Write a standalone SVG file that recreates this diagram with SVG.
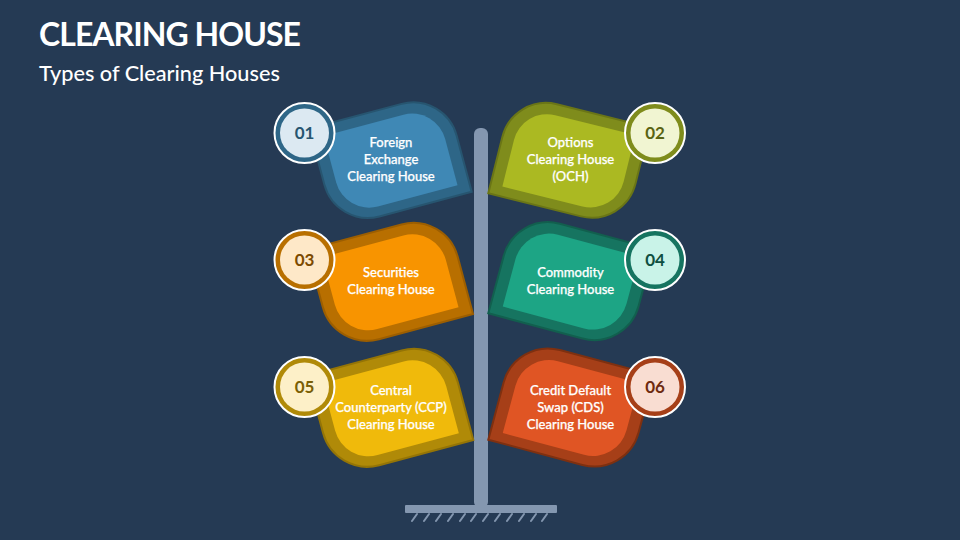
<svg xmlns="http://www.w3.org/2000/svg" width="960" height="540" viewBox="0 0 960 540">
<style>
text{font-family:Lato,"Open Sans","Liberation Sans",sans-serif}
.lbl{font-size:13px;font-weight:500;fill:#fff;stroke:#fff;stroke-width:.25;text-anchor:middle}
.num{font-size:17px;font-weight:700;text-anchor:middle}
.ring{stroke:#fff;stroke-width:2}
.post{fill:#8497B0}
.tick{stroke:#8497B0;stroke-width:2;stroke-linecap:round}
</style>
<defs>
<path id="outer" d="M-140.5,-103H-45A45,45 0 0 1 0,-58V0H-95.5A45,45 0 0 1 -140.5,-45Z" stroke-width="2"/>
<path id="inner" d="M-128.5,-92H-46A34,34 0 0 1 -12,-58V-10H-94.5A34,34 0 0 1 -128.5,-44Z"/>
</defs>
<rect width="960" height="540" fill="#253A54"/>
<text x="39" y="46" font-size="32" font-weight="700" fill="#fff" textLength="262">CLEARING HOUSE</text>
<text x="39" y="81" font-size="21.7" font-weight="500" fill="#fff">Types of Clearing Houses</text>
<g id="post">
<rect class="post" x="474" y="128" width="14" height="380" rx="6"/>
<rect class="post" x="405" y="505" width="152" height="8" rx="1"/>
<path class="tick" d="M412,521L417,514M424,521L429,514M436,521L441,514M448,521L453,514M460,521L465,514M471,521L476,514M483,521L488,514M495,521L500,514M507,521L512,514M519,521L524,514M531,521L536,514M542,521L547,514"/>
</g>
<g id="node1">
<g transform="translate(471.7,191.7) rotate(-15)"><use href="#outer" fill="#2E6687" stroke="#275570"/><use href="#inner" fill="#3F88B5"/></g>
<text class="lbl" x="391" y="147">Foreign</text><text class="lbl" x="391" y="164">Exchange</text><text class="lbl" x="391" y="181">Clearing House</text>
<circle class="ring" cx="304.5" cy="133" r="30" fill="#2E6687"/><circle cx="304.5" cy="133" r="24.5" fill="#DCE9F2"/>
<text class="num" x="304.5" y="139" fill="#275570">01</text>
</g>
<g id="node2">
<g transform="translate(488.3,193.3) scale(-1,1) rotate(-14)"><use href="#outer" fill="#7F8C1C" stroke="#6A7516"/><use href="#inner" fill="#ABB922"/></g>
<text class="lbl" x="570.5" y="147">Options</text><text class="lbl" x="570.5" y="164">Clearing House</text><text class="lbl" x="570.5" y="181">(OCH)</text>
<circle class="ring" cx="655" cy="133" r="30" fill="#7F8C1C"/><circle cx="655" cy="133" r="24.5" fill="#F1F5D2"/>
<text class="num" x="655" y="139" fill="#5A6412">02</text>
</g>
<g id="node3">
<g transform="translate(473,314) scale(1.02) rotate(-15)"><use href="#outer" fill="#B86F00" stroke="#9C5E00"/><use href="#inner" fill="#F89400"/></g>
<text class="lbl" x="391" y="277">Securities</text><text class="lbl" x="391" y="294">Clearing House</text>
<circle class="ring" cx="304.5" cy="260" r="30" fill="#B86F00"/><circle cx="304.5" cy="260" r="24.5" fill="#FEE8C8"/>
<text class="num" x="304.5" y="266" fill="#7C4A00">03</text>
</g>
<g id="node4">
<g transform="translate(488.3,313.3) scale(-1.02,1.02) rotate(-15)"><use href="#outer" fill="#167460" stroke="#125F4E"/><use href="#inner" fill="#1DA585"/></g>
<text class="lbl" x="570.5" y="277">Commodity</text><text class="lbl" x="570.5" y="294">Clearing House</text>
<circle class="ring" cx="655" cy="260" r="30" fill="#167460"/><circle cx="655" cy="260" r="24.5" fill="#C9F3E8"/>
<text class="num" x="655" y="266" fill="#0F4F41">04</text>
</g>
<g id="node5">
<g transform="translate(473.3,440) scale(1.02) rotate(-15)"><use href="#outer" fill="#B08A08" stroke="#947406"/><use href="#inner" fill="#F0BA0B"/></g>
<text class="lbl" x="391" y="395">Central</text><text class="lbl" x="391" y="412">Counterparty (CCP)</text><text class="lbl" x="391" y="429">Clearing House</text>
<circle class="ring" cx="304.5" cy="387" r="30" fill="#B08A08"/><circle cx="304.5" cy="387" r="24.5" fill="#FDF0C8"/>
<text class="num" x="304.5" y="393" fill="#7A5F05">05</text>
</g>
<g id="node6">
<g transform="translate(488.3,439.7) scale(-1.02,1.02) rotate(-15)"><use href="#outer" fill="#A63F18" stroke="#7E3010"/><use href="#inner" fill="#E05524"/></g>
<text class="lbl" x="570.5" y="395">Credit Default</text><text class="lbl" x="570.5" y="412">Swap (CDS)</text><text class="lbl" x="570.5" y="429">Clearing House</text>
<circle class="ring" cx="655" cy="387" r="30" fill="#A63F18"/><circle cx="655" cy="387" r="24.5" fill="#F9DDD2"/>
<text class="num" x="655" y="393" fill="#6E2A0F">06</text>
</g>
</svg>
